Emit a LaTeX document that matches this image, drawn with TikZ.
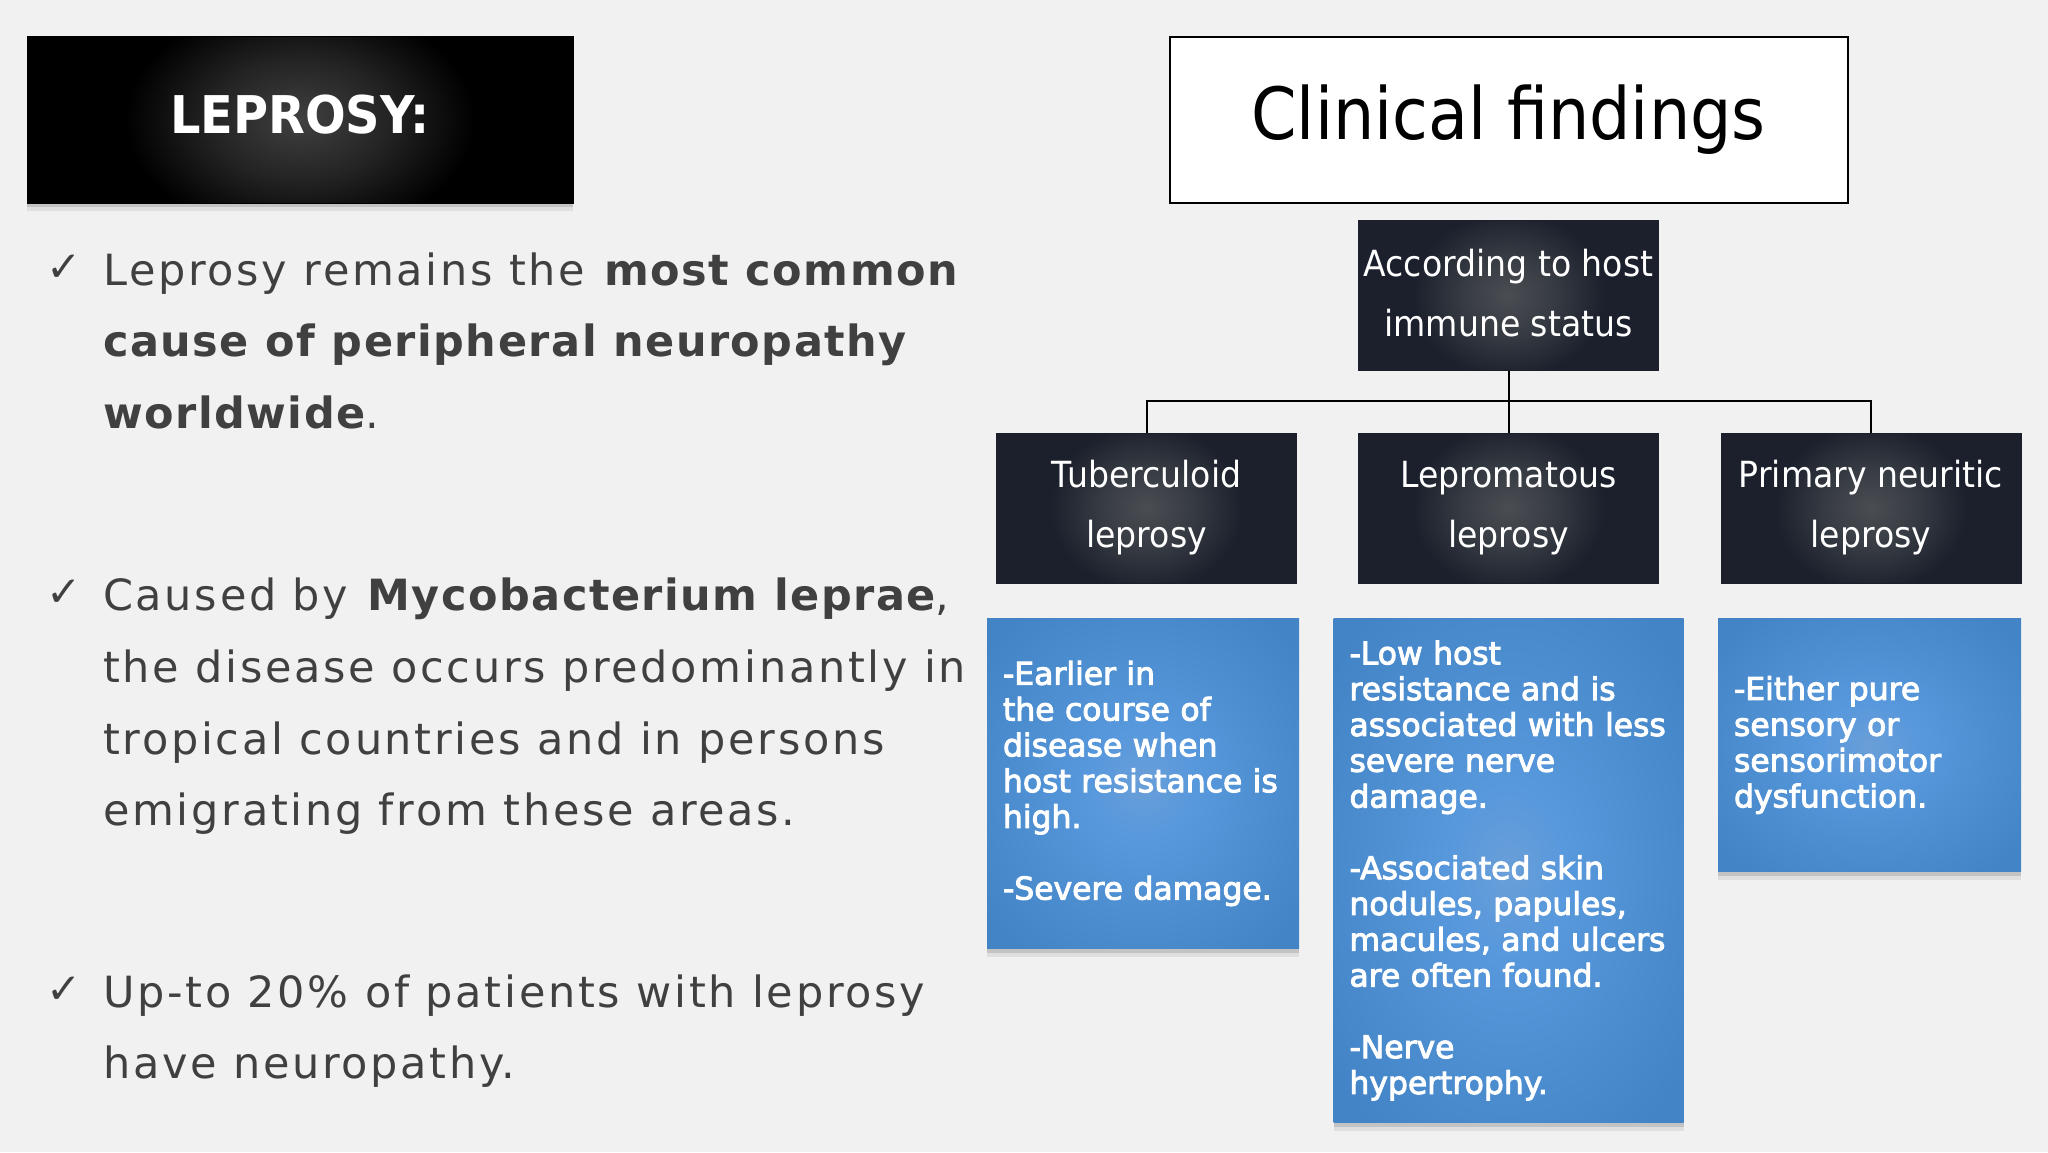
\documentclass[tikz,border=0pt]{standalone}
\usepackage{fontspec}
\usepackage{xcolor}
\usetikzlibrary{calc,shadows}
\setmainfont{DejaVu Sans}
\newfontfamily\spacedfont[LetterSpace=6.3,BoldFeatures={LetterSpace=3.5}]{DejaVu Sans}
\newfontfamily\blockfont[FakeBold=3]{DejaVu Sans}
\newfontfamily\narrowfont[FakeStretch=0.92]{DejaVu Sans}
\newfontfamily\headfont[FakeStretch=0.905]{DejaVu Sans}
\definecolor{pagebg}{HTML}{F1F1F1}
\definecolor{bodyink}{HTML}{404040}
\definecolor{blackglow}{HTML}{404040}
\definecolor{blackmid}{HTML}{242424}
\definecolor{navyedge}{HTML}{1B202C}
\definecolor{navymid}{HTML}{363A42}
\definecolor{navyglow}{HTML}{4A4D52}
\definecolor{blueedge}{HTML}{4284C6}
\definecolor{bluemid}{HTML}{5898DC}
\definecolor{blueglow}{HTML}{6A9FD8}
\pgfdeclareradialshading{bluesoft}{\pgfpoint{0bp}{0bp}}{color(0bp)=(blueglow); color(8bp)=(bluemid); color(32bp)=(blueedge); color(50bp)=(blueedge)}
\pgfdeclareradialshading{blacksoft}{\pgfpoint{0bp}{0bp}}{color(0bp)=(blackglow); color(8bp)=(blackmid); color(16bp)=(black); color(50bp)=(black)}
\pgfdeclareradialshading{navysoft}{\pgfpoint{0bp}{0bp}}{color(0bp)=(navyglow); color(8bp)=(navymid); color(16bp)=(navyedge); color(50bp)=(navyedge)}
\tikzset{
  softshadow/.style={drop shadow={shadow xshift=0pt,shadow yshift=-8pt,fill=black,opacity=0.07},
    drop shadow={shadow xshift=0pt,shadow yshift=-4pt,fill=black,opacity=0.12}},
  glowfill/.style n args={3}{fill=#2,draw=#2,line width=1pt,path picture={
    \shade[shading=#1] (path picture bounding box.center) circle (#3);}},
  titlebox/.style={glowfill={blacksoft}{black}{185pt},text=white,
    minimum width=546pt,minimum height=167pt,inner sep=0pt,softshadow},
  findbox/.style={draw=black,line width=2pt,fill=white,minimum width=678pt,minimum height=166pt,inner sep=0pt},
  typebox/.style={glowfill={navysoft}{navyedge}{130pt},text=white,
    minimum width=300pt,minimum height=150pt,inner sep=0pt,align=center,
    font=\narrowfont\fontsize{36}{60}\selectfont},
  bluebox/.style={shade,shading=bluesoft,text=white,
    inner xsep=16pt,inner ysep=0pt,align=left,font=\blockfont\fontsize{31.4}{35.8}\selectfont,softshadow},
  bodytext/.style={anchor=north west,inner sep=0pt,align=left,text=bodyink,
    font=\spacedfont\fontsize{43}{71.6}\selectfont},
  tick/.style={text=bodyink,inner sep=0pt,font=\fontsize{42}{46}\selectfont},
  link/.style={draw=black,line width=2pt},
}
\begin{document}
\begin{tikzpicture}[x=1pt,y=-1pt]
\fill[pagebg] (0,0) rectangle (2048,1152);
% left column
\node[titlebox,font=\narrowfont\bfseries\fontsize{52}{60}\selectfont] (leprosy) at (300,119.5) {\raisebox{10pt}{LEPROSY:}};
\node[tick] (tickone) at (64,268) {✓};
\node[bodytext] (paraone) at (103,252.5) {Leprosy remains the \textbf{most common}\\ \textbf{cause of peripheral neuropathy}\\ \textbf{worldwide}.};
\node[tick] (ticktwo) at (64,593) {✓};
\node[bodytext] (paratwo) at (103,578) {Caused by \textbf{Mycobacterium leprae},\\ the disease occurs predominantly in\\ tropical countries and in persons\\ emigrating from these areas.};
\node[tick] (tickthree) at (64,990) {✓};
\node[bodytext] (parathree) at (103,974.5) {Up-to 20\% of patients with leprosy\\ have neuropathy.};
% right column
\node[findbox,font=\headfont\fontsize{72}{80}\selectfont] (findings) at (1508.5,119.5) {\raisebox{1pt}{Clinical findings}};
\node[typebox] (host) at (1508.5,295) {\raisebox{3.5pt}{According to host}\\ \raisebox{3.5pt}{immune status}};
\node[typebox] (tuberculoid) at (1146.5,508) {Tuberculoid\\ leprosy};
\node[typebox] (lepromatous) at (1508.5,508) {Lepromatous\\ leprosy};
\node[typebox] (neuritic) at (1871,508) {Primary neuritic\\ leprosy};
\coordinate (bus) at (1508.5,401);
\draw[link] (host.south) -- (lepromatous.north);
\draw[link] (tuberculoid.north) |- (bus) -| (neuritic.north);
\node[bluebox,minimum width=312pt,minimum height=330pt,text width=280pt] (earlier) at (1143,783.5) {-Earlier in\\ the course of\\ disease when\\ host resistance is\\ high.\\[35.8pt] -Severe damage.};
\node[bluebox,minimum width=350pt,minimum height=504pt,text width=318pt] (lowhost) at (1508.5,870.5) {-Low host\\ resistance and is\\ associated with less\\ severe nerve\\ damage.\\[35.8pt] -Associated skin\\ nodules, papules,\\ macules, and ulcers\\ are often found.\\[35.8pt] -Nerve\\ hypertrophy.};
\node[bluebox,minimum width=303pt,minimum height=253pt,text width=271pt] (either) at (1869.5,745) {-Either pure\\ sensory or\\ sensorimotor\\ dysfunction.};
\end{tikzpicture}
\end{document}
